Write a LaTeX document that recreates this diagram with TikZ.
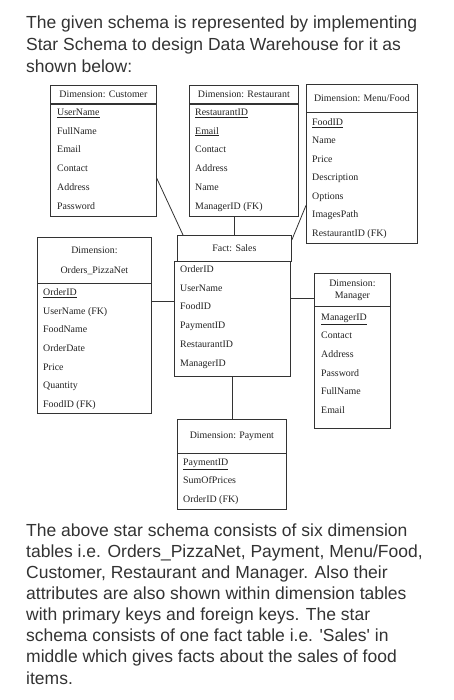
\documentclass[tikz,border=0pt]{standalone}
\usepackage{fontspec}
\setmainfont{Liberation Serif}
\newfontfamily\prosefont{Liberation Sans}
\usetikzlibrary{calc}
\definecolor{prose}{HTML}{333333}
\definecolor{ink}{HTML}{333333}
\definecolor{txt}{HTML}{222222}
\begin{document}
\begin{tikzpicture}[x=1pt,y=-1pt,
  box/.style={draw=ink, line width=0.8pt, inner sep=0pt, anchor=north west},
  hdr/.style={font=\fontsize{9.9}{12}\selectfont, text=txt, align=center},
  item/.style={font=\fontsize{9.9}{11}\selectfont, text=txt, anchor=west, inner sep=0pt, text height=6.7pt, text depth=0pt},
  prose/.style={font=\prosefont\fontsize{17.5}{21}\selectfont, text=prose, anchor=base west, inner sep=0pt},
  link/.style={draw=ink, line width=0.8pt},
  thick sep/.style={draw=ink, line width=1.6pt}]
\useasboundingbox[fill=white] (0,0) rectangle (453,700);

% prose above
\node[prose] (p1) at (26,28.5) {The given schema is represented by implementing};
\node[prose] (p2) at (26,50.5) {Star Schema to design Data Warehouse for it as};
\node[prose] (p3) at (26,72.5) {shown below:};

% Customer
\node[box, hdr, minimum width=106, minimum height=18] (custH) at (50,85) {Dimension: Customer};
\node[box, minimum width=106, minimum height=113] (custB) at (50,103) {};
\draw[thick sep] (custH.south west) -- (custH.south east);
\foreach \t [count=\i] in {\underline{UserName},FullName,Email,Contact,Address,Password}
  \node[item] (cust\i) at (57,{112+(\i-1)*18.8}) {\t};

% Restaurant
\node[box, hdr, minimum width=109, minimum height=18] (restH) at (189,85) {Dimension: Restaurant};
\node[box, minimum width=109, minimum height=113] (restB) at (189,103) {};
\draw[thick sep] (restH.south west) -- (restH.south east);
\foreach \t [count=\i] in {\underline{RestaurantID},\underline{Email},Contact,Address,Name,ManagerID (FK)}
  \node[item] (rest\i) at (195,{112+(\i-1)*18.8}) {\t};

% Menu/Food
\node[box, hdr, minimum width=111, minimum height=28] (menuH) at (306,84) {Dimension: Menu/Food};
\node[box, minimum width=111, minimum height=131] (menuB) at (306,112) {};
\foreach \t [count=\i] in {\underline{FoodID},Name,Price,Description,Options,ImagesPath,RestaurantID (FK)}
  \node[item] (menu\i) at (312,{122+(\i-1)*18.5}) {\t};

% Orders_PizzaNet
\node[box, hdr, minimum width=114, minimum height=46, font=\fontsize{9.9}{20}\selectfont] (ordH) at (37,237) {Dimension:\\Orders\_PizzaNet};
\node[box, minimum width=114, minimum height=130] (ordB) at (37,283) {};
\foreach \t [count=\i] in {\underline{OrderID},UserName (FK),FoodName,OrderDate,Price,Quantity,FoodID (FK)}
  \node[item] (ord\i) at (43,{292+(\i-1)*18.7}) {\t};

% Fact: Sales
\node[box, hdr, minimum width=114, minimum height=26] (factH) at (177,235) {Fact: Sales};
\node[box, minimum width=116, minimum height=115] (factB) at (174,261) {};
\foreach \t [count=\i] in {OrderID,UserName,FoodID,PaymentID,RestaurantID,ManagerID}
  \node[item] (fact\i) at (180,{269+(\i-1)*18.8}) {\t};

% Manager
\node[box, hdr, minimum width=76, minimum height=33, font=\fontsize{9.9}{12}\selectfont] (mgrH) at (314,273) {Dimension:\\Manager};
\node[box, minimum width=76, minimum height=122] (mgrB) at (314,306) {};
\foreach \t [count=\i] in {\underline{ManagerID},Contact,Address,Password,FullName,Email}
  \node[item] (mgr\i) at (321,{317+(\i-1)*18.6}) {\t};

% Payment
\node[box, hdr, minimum width=109, minimum height=34] (payH) at (177,419) {Dimension: Payment};
\node[box, minimum width=109, minimum height=56] (payB) at (177,453) {};
\foreach \t [count=\i] in {\underline{PaymentID},SumOfPrices,OrderID (FK)}
  \node[item] (pay\i) at (183,{462+(\i-1)*18.5}) {\t};

% connectors
\draw[link] ([yshift=-18.5pt]custB.east) -- ([xshift=6pt]factH.north west);
\draw[link] (factH.north) -- (factH.north |- restB.south);
\draw[link] ([yshift=-27.5pt]menuB.west) -- ([yshift=-5pt]factH.north east);
\draw[link] ([yshift=47pt]ordB.east) -- ([yshift=47pt]ordB.east -| factB.west);
\draw[link] ([yshift=-8.5pt]mgrH.west) -- ([yshift=-8.5pt]mgrH.west -| factB.east);
\draw[link] (payH.north) -- (payH.north |- factB.south);

% prose below
\node[prose] (q1) at (26,536) {The above star schema consists of six dimension};
\node[prose] (q2) at (26,557) {tables i.e. Orders\_PizzaNet, Payment, Menu/Food,};
\node[prose] (q3) at (26,578) {Customer, Restaurant and Manager. Also their};
\node[prose] (q4) at (26,599) {attributes are also shown within dimension tables};
\node[prose] (q5) at (26,620) {with primary keys and foreign keys. The star};
\node[prose] (q6) at (26,641) {schema consists of one fact table i.e. \textquotesingle Sales\textquotesingle{} in};
\node[prose] (q7) at (26,662.5) {middle which gives facts about the sales of food};
\node[prose] (q8) at (26,684) {items.};
\end{tikzpicture}
\end{document}
